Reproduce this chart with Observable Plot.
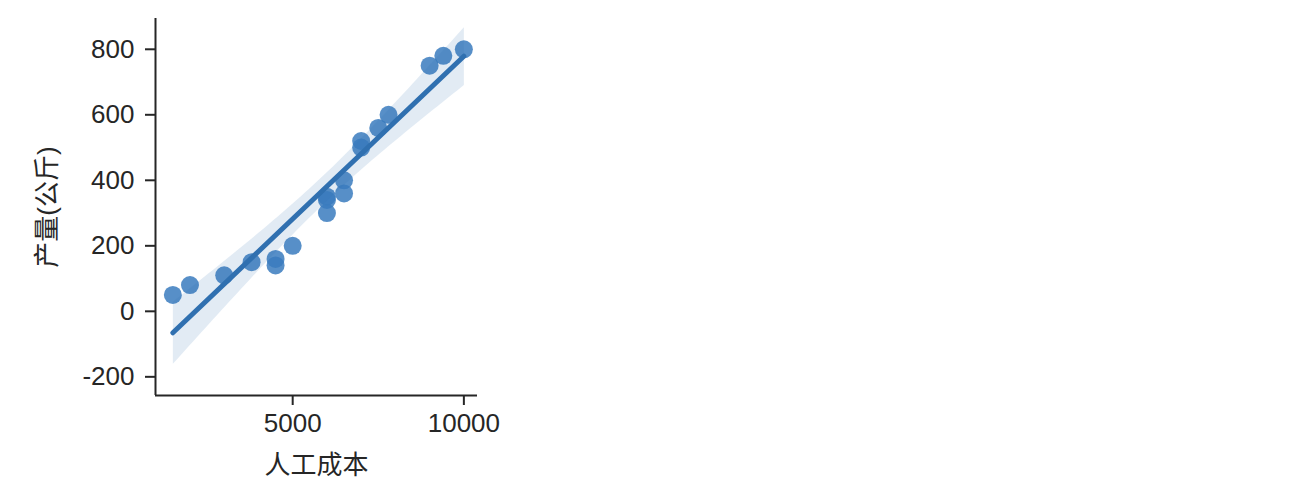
<!DOCTYPE html>
<html>
<head>
<meta charset="utf-8">
<script src="https://cdn.jsdelivr.net/npm/d3@7"></script>
<script src="https://cdn.jsdelivr.net/npm/@observablehq/plot@0.6"></script>
<style>
  html, body { margin: 0; padding: 0; background: #fff; }
</style>
</head>
<body>
<div id="chart"></div>
<script>
const laborCost = [1500, 2000, 3000, 3800, 4500, 4500, 5000, 6000, 6000, 6000, 6500, 6500, 7000, 7000, 7500, 7800, 9000, 9400, 10000];
const output    = [50,   80,   110,  150,  160,  140,  200,  350,  340,  300,  400,  360,  520,  500,  560,  600,  750,  780,  800];
const xTicks = [5000, 10000];
const yTicks = [-200, 0, 200, 400, 600, 800];
const xLabel = "人工成本";
const yLabel = "产量(公斤)";

const data = laborCost.map((x, i) => ({x, y: output[i]}));

const ink = "#262626";
const lineColor = "#3070b0";
const dotColor = "#3a7bbe";
const xDomain = [993, 10398];
const yDomain = [-257, 894];

const chart = Plot.plot({
  width: 1314,
  height: 502,
  marginLeft: 155,
  marginRight: 837,
  marginTop: 18,
  marginBottom: 107,
  style: {
    fontFamily: "'Liberation Sans', Arial, 'Noto Sans CJK SC', sans-serif",
    fontSize: "26px",
    color: ink,
    background: "#fff"
  },
  x: {domain: xDomain},
  y: {domain: yDomain},
  marks: [
    Plot.dot(data, {x: "x", y: "y", r: 9, fill: dotColor, fillOpacity: 0.85, stroke: "none"}),
    Plot.linearRegressionY(data, {x: "x", y: "y", stroke: lineColor, strokeWidth: 5, fill: lineColor, fillOpacity: 0.14, ci: 0.99}),
    Plot.axisX({ticks: xTicks, tickFormat: d => String(d), tickSize: 10, tickPadding: 8, strokeWidth: 2, label: null, fontSize: 26}),
    Plot.axisY({ticks: yTicks, tickFormat: d => String(d), tickSize: 10, tickPadding: 11, strokeWidth: 2, label: null, fontSize: 26}),
    Plot.ruleX([xDomain[0]], {stroke: ink, strokeWidth: 2}),
    Plot.ruleY([yDomain[0]], {stroke: ink, strokeWidth: 2}),
    Plot.text([xLabel], {text: d => d, frameAnchor: "bottom", lineAnchor: "middle", textAnchor: "middle", dy: 70, fontSize: 26, fill: ink}),
    Plot.text([yLabel], {text: d => d, frameAnchor: "left", lineAnchor: "middle", textAnchor: "middle", rotate: -90, dx: -108, fontSize: 26, fill: ink})
  ]
});
document.getElementById("chart").appendChild(chart);
</script>
</body>
</html>
